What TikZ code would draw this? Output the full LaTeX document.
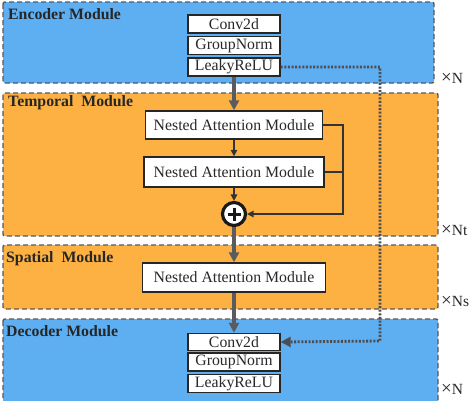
\documentclass[tikz,border=0pt]{standalone}
\usepackage{fontspec}
\setmainfont{Liberation Serif}
\usetikzlibrary{arrows.meta,calc}
\definecolor{modblue}{RGB}{94,175,242}
\definecolor{modorange}{RGB}{252,177,66}
\definecolor{edgegray}{RGB}{88,88,92}
\definecolor{linegray}{RGB}{90,90,95}
\definecolor{txt}{RGB}{40,40,45}
\begin{document}
\begin{tikzpicture}[x=1pt,y=-1pt,
  module/.style={draw=edgegray,line width=1.4pt,dash pattern=on 5pt off 3pt,rounded corners=2pt},
  blk/.style={draw=black!85,line width=1.4pt,fill=white,inner sep=0pt,text=txt,font=\fontsize{15.8}{16}\selectfont},
  title/.style={anchor=west,text=black!85,font=\fontsize{15.8}{16}\selectfont\bfseries,inner sep=0pt},
  rep/.style={anchor=west,text=txt,font=\fontsize{15.5}{16}\selectfont,inner sep=0pt},
  mainarrow/.style={draw=linegray,line width=3.2pt,-{Triangle[length=10pt,width=10pt]}},
  thinarrow/.style={draw=black!80,line width=1.5pt,-{Triangle[length=6.5pt,width=6.5pt]}},
  skiparrow/.style={draw=linegray!85!black,line width=2.8pt,dash pattern=on 2pt off 1.6pt,-{Triangle[length=10pt,width=10pt]}}
]
\useasboundingbox (0,0) rectangle (474,400);
% modules
\filldraw[module,fill=modblue] (3,2) rectangle (434,83);
\filldraw[module,fill=modorange] (3,93) rectangle (438,236);
\filldraw[module,fill=modorange] (3,245) rectangle (438,309);
\filldraw[module,fill=modblue] (3,319) rectangle (438,404);
% titles
\node[title] (tenc) at (8,14) {Encoder Module};
\node[title] (ttem) at (8,103) {Temporal\ \ Module};
\node[title] (tspa) at (6,259) {Spatial\ \ Module};
\node[title] (tdec) at (6,331) {Decoder Module};
% repeat labels
\node[rep] (rn1) at (441,78) {{\fontsize{19}{16}\selectfont×}N};
\node[rep] (rnt) at (441,230) {{\fontsize{19}{16}\selectfont×}Nt};
\node[rep] (rns) at (441,301) {{\fontsize{19}{16}\selectfont×}Ns};
\node[rep] (rn2) at (441,389) {{\fontsize{19}{16}\selectfont×}N};
% encoder blocks
\node[blk,minimum width=92pt,minimum height=18pt] (econv) at (234,24) {Conv2d};
\node[blk,minimum width=92pt,minimum height=18pt] (egn) at (234,45.5) {GroupNorm};
\node[blk,minimum width=92pt,minimum height=18pt] (elr) at (234,67) {LeakyReLU};
% temporal
\node[blk,minimum width=177pt,minimum height=28pt] (nam1) at (234,125) {Nested Attention Module};
\node[blk,minimum width=180pt,minimum height=30pt] (nam2) at (234,172) {Nested Attention Module};
\node[circle,draw=black!90,line width=3.2pt,fill=white,minimum size=23pt,inner sep=0pt] (plus) at (234,214) {};
\draw[line width=3pt,black!90] ($(plus.center)+(-6.5,0)$) -- ($(plus.center)+(6.5,0)$);
\draw[line width=3pt,black!90] ($(plus.center)+(0,-6.5)$) -- ($(plus.center)+(0,6.5)$);
% spatial
\node[blk,minimum width=183pt,minimum height=29pt] (nam3) at (234,277.5) {Nested Attention Module};
% decoder blocks
\node[blk,minimum width=92pt,minimum height=17pt] (dconv) at (234,342) {Conv2d};
\node[blk,minimum width=92pt,minimum height=18pt] (dgn) at (234,362) {GroupNorm};
\node[blk,minimum width=92pt,minimum height=18pt] (dlr) at (234,383.5) {LeakyReLU};
% skip
\coordinate (sk1) at (380,67);
\coordinate (sk2) at (380,341);
\draw[skiparrow] (elr.east) -- (sk1) -- (sk2) -- (dconv.east);
% main arrows
\draw[mainarrow] (elr.south) -- (nam1.north);
\draw[thinarrow] (nam1.south) -- (nam2.north);
\draw[thinarrow] (nam2.south) -- (plus.north);
\coordinate (r1) at (343,125);
\coordinate (r2) at (343,172);
\coordinate (r3) at (343,214);
\draw[black!80,line width=1.5pt] (nam1.east) -- (r1) -- (r2);
\draw[black!80,line width=1.5pt] (nam2.east) -- (r2);
\draw[thinarrow] (r2) -- (r3) -- (plus.east);
\draw[mainarrow] (plus.south) -- (nam3.north);
\draw[mainarrow] (nam3.south) -- (dconv.north);
\end{tikzpicture}
\end{document}
